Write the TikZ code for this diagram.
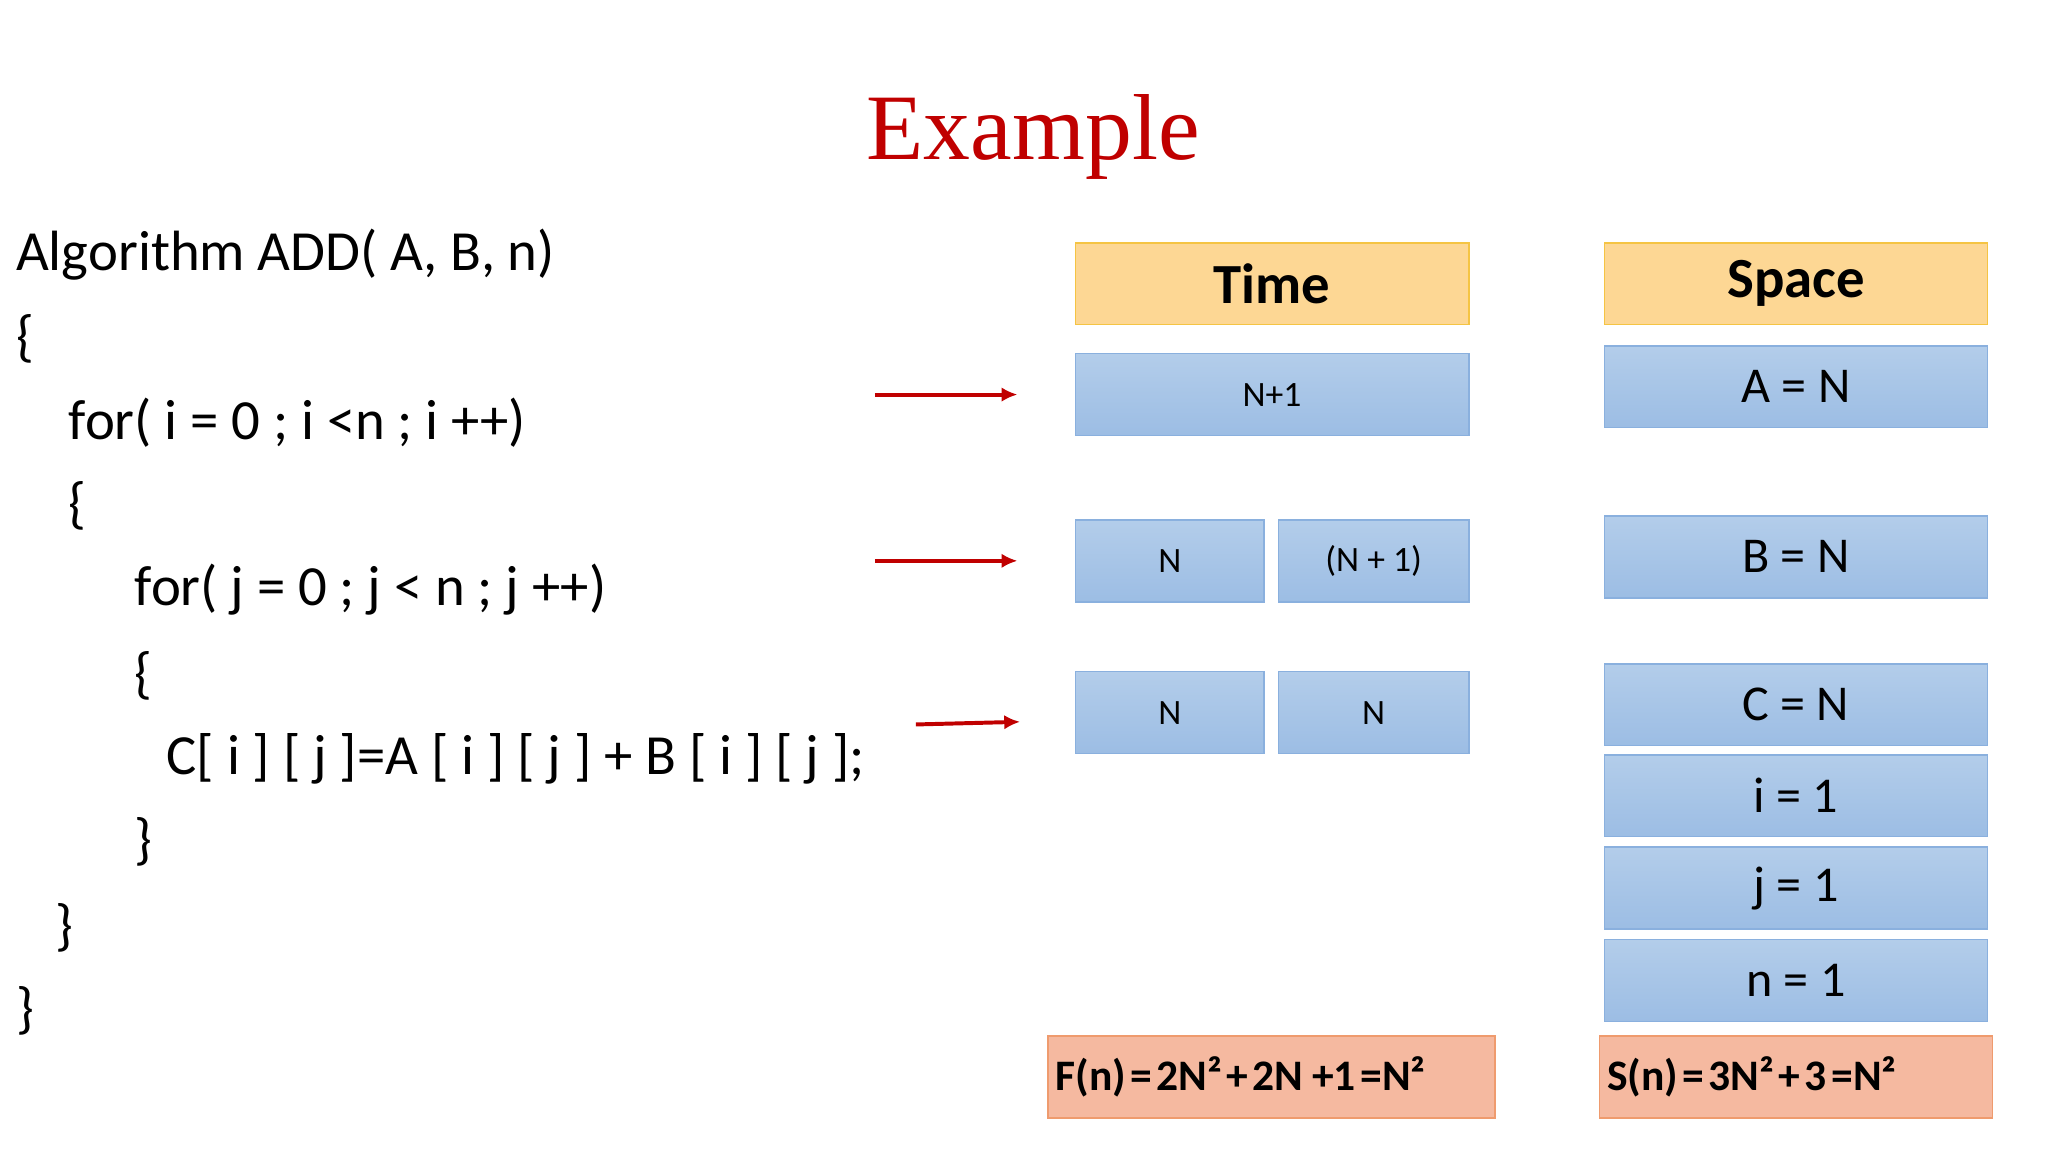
\documentclass[tikz,border=0pt]{standalone}
\usepackage{fontspec}
\usetikzlibrary{arrows.meta}
\setmainfont{Carlito}
\newfontfamily\serifx{Liberation Serif}
\definecolor{bluetop}{HTML}{B3CDEA}
\definecolor{bluebot}{HTML}{9CBDE4}
\definecolor{blueline}{HTML}{8AB0DE}
\definecolor{orangefill}{HTML}{FDD794}
\definecolor{orangeline}{HTML}{F5C443}
\definecolor{salfill}{HTML}{F5B9A0}
\definecolor{salline}{HTML}{EF9B6E}
\definecolor{titlered}{HTML}{C00000}
\definecolor{arrowred}{HTML}{C00000}
\begin{document}
\begin{tikzpicture}[x=1pt,y=-1pt,
  bluebox/.style={draw=blueline,line width=1.2pt,top color=bluetop,bottom color=bluebot,inner sep=0pt},
  headbox/.style={draw=orangeline,line width=1.2pt,fill=orangefill,inner sep=0pt},
  resbox/.style={draw=salline,line width=1.2pt,fill=salfill,inner sep=0pt},
  codeline/.style={anchor=west,inner sep=0pt,font=\fontsize{43}{50}\selectfont},
  redarrow/.style={draw=arrowred,line width=3pt,-{Latex[length=12pt,width=11pt]}}]
\useasboundingbox (0,0) rectangle (1552,873);
\node (title) at (783,104) {\serifx\fontsize{71}{78}\selectfont\color{titlered}Example};
% code
\node[codeline] (c1) at (12,193) {Algorithm ADD( A, B, n)};
\node[codeline] (c2) at (12,257) {\{};
\node[codeline] (c3) at (52,320) {for( i = 0 ; i <n ; i ++)};
\node[codeline] (c4) at (52,383) {\{};
\node[codeline] (c5) at (102,447) {for( j = 0 ; j < n ; j ++)};
\node[codeline] (c6) at (102,512) {\{};
\node[codeline] (c7) at (126,575) {C[ i ] [ j ]=A [ i ] [ j ] + B [ i ] [ j ];};
\node[codeline] (c8) at (102,638) {\}};
\node[codeline] (c9) at (42,703) {\}};
\node[codeline] (c10) at (12,766) {\}};
% time column
\node[headbox,minimum width=298pt,minimum height=62pt] (time) at (964,215) {\fontsize{43}{50}\selectfont\bfseries Time};
\node[bluebox,minimum width=298pt,minimum height=62pt] (t1) at (964,299) {\fontsize{27}{32}\selectfont N+1};
\node[bluebox,minimum width=143pt,minimum height=62pt] (t2a) at (886.5,425) {\fontsize{27}{32}\selectfont N};
\node[bluebox,minimum width=144pt,minimum height=62pt] (t2b) at (1041,425) {\fontsize{27}{32}\selectfont (N + 1)};
\node[bluebox,minimum width=143pt,minimum height=62pt] (t3a) at (886.5,540) {\fontsize{27}{32}\selectfont N};
\node[bluebox,minimum width=144pt,minimum height=62pt] (t3b) at (1041,540) {\fontsize{27}{32}\selectfont N};
\node[resbox,minimum width=339pt,minimum height=62pt,text width=327pt,align=left] (fn) at (963.5,816) {\fontsize{33}{38}\selectfont\bfseries F(n) = 2N² + 2N\ \ +1 =N²};
% space column
\node[headbox,minimum width=290pt,minimum height=62pt] (space) at (1361,215) {\fontsize{43}{50}\selectfont\bfseries Space};
\node[bluebox,minimum width=290pt,minimum height=62pt] (s1) at (1361,293) {\fontsize{38}{44}\selectfont A = N};
\node[bluebox,minimum width=290pt,minimum height=62pt] (s2) at (1361,422) {\fontsize{38}{44}\selectfont B = N};
\node[bluebox,minimum width=290pt,minimum height=62pt] (s3) at (1361,534) {\fontsize{38}{44}\selectfont C = N};
\node[bluebox,minimum width=290pt,minimum height=62pt] (s4) at (1361,603) {\fontsize{38}{44}\selectfont i = 1};
\node[bluebox,minimum width=290pt,minimum height=62pt] (s5) at (1361,673) {\fontsize{38}{44}\selectfont j = 1};
\node[bluebox,minimum width=290pt,minimum height=62pt] (s6) at (1361,743) {\fontsize{38}{44}\selectfont n = 1};
\node[resbox,minimum width=298pt,minimum height=62pt,text width=286pt,align=left] (sn) at (1361,816) {\fontsize{33}{38}\selectfont\bfseries S(n) = 3N² + 3 =N²};
% arrows
\coordinate (a1s) at (663,299); \coordinate (a1e) at (771,299);
\coordinate (a2s) at (663,425); \coordinate (a2e) at (771,425);
\coordinate (a3s) at (694,549); \coordinate (a3e) at (773,547);
\draw[redarrow] (a1s) -- (a1e);
\draw[redarrow] (a2s) -- (a2e);
\draw[redarrow] (a3s) -- (a3e);
\end{tikzpicture}
\end{document}
